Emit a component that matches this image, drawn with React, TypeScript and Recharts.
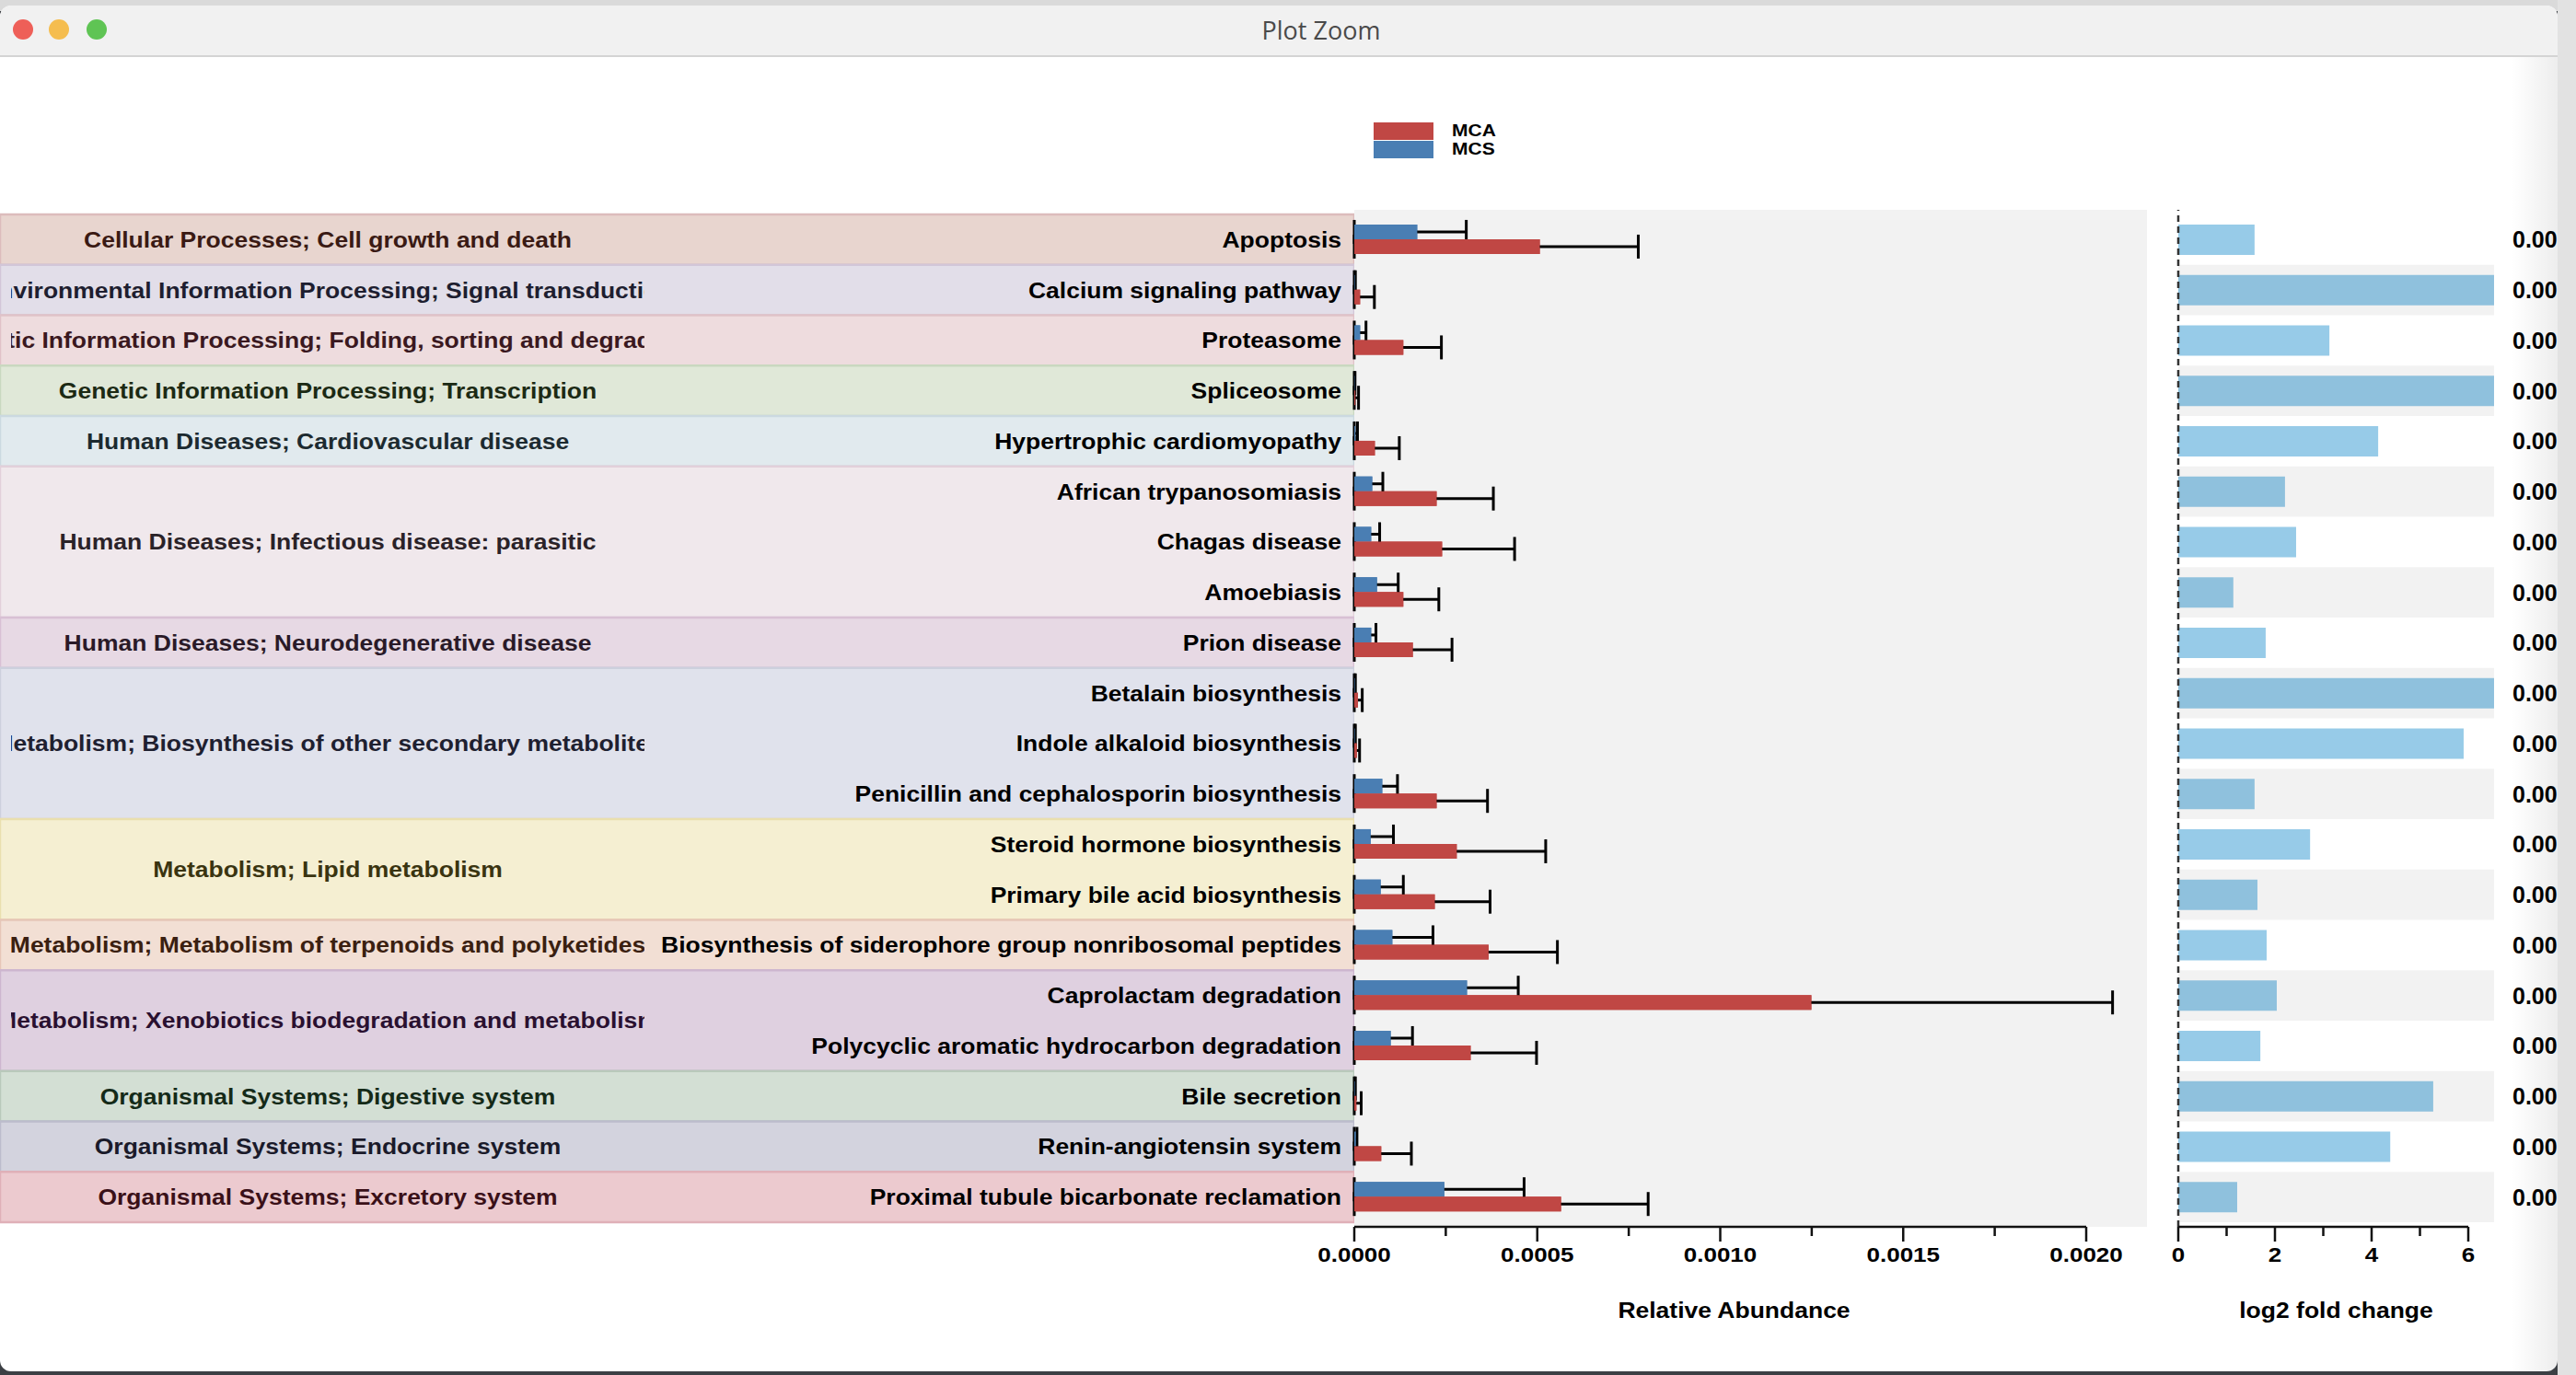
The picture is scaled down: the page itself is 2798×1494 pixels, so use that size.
import React from "react";
import { BarChart, Bar, Cell, XAxis, YAxis, ErrorBar, ReferenceArea, ReferenceLine, CartesianGrid } from "recharts";

const W = 2798;
const H = 1494;
const TOP = 228; // top edge of the plot panels
const AXIS_H = 161; // x axis band, plot bottom sits at 1333
const LEFT_W = 1471; // width of the label panel on the left
const SQ = 0.88; // the screenshot text is a bit squashed vertically
const FONT = "'Liberation Sans', Arial, Helvetica, sans-serif";
const PAD = { top: 5, bottom: 5 };

// ---- data ----
const pathways = [
  "Apoptosis",
  "Calcium signaling pathway",
  "Proteasome",
  "Spliceosome",
  "Hypertrophic cardiomyopathy",
  "African trypanosomiasis",
  "Chagas disease",
  "Amoebiasis",
  "Prion disease",
  "Betalain biosynthesis",
  "Indole alkaloid biosynthesis",
  "Penicillin and cephalosporin biosynthesis",
  "Steroid hormone biosynthesis",
  "Primary bile acid biosynthesis",
  "Biosynthesis of siderophore group nonribosomal peptides",
  "Caprolactam degradation",
  "Polycyclic aromatic hydrocarbon degradation",
  "Bile secretion",
  "Renin-angiotensin system",
  "Proximal tubule bicarbonate reclamation",
];

const pathwayClass = [
  "Cellular Processes; Cell growth and death",
  "Environmental Information Processing; Signal transduction",
  "Genetic Information Processing; Folding, sorting and degradation",
  "Genetic Information Processing; Transcription",
  "Human Diseases; Cardiovascular disease",
  "Human Diseases; Infectious disease: parasitic",
  "Human Diseases; Infectious disease: parasitic",
  "Human Diseases; Infectious disease: parasitic",
  "Human Diseases; Neurodegenerative disease",
  "Metabolism; Biosynthesis of other secondary metabolites",
  "Metabolism; Biosynthesis of other secondary metabolites",
  "Metabolism; Biosynthesis of other secondary metabolites",
  "Metabolism; Lipid metabolism",
  "Metabolism; Lipid metabolism",
  "Metabolism; Metabolism of terpenoids and polyketides",
  "Metabolism; Xenobiotics biodegradation and metabolism",
  "Metabolism; Xenobiotics biodegradation and metabolism",
  "Organismal Systems; Digestive system",
  "Organismal Systems; Endocrine system",
  "Organismal Systems; Excretory system",
];

const mcsMean = [
  0.000172, 0.0000015, 0.000016, 0.000001, 0.000003, 0.0000491, 0.0000462, 0.0000621, 0.0000462, 0.0000015,
  0.0000015, 0.0000765, 0.0000448, 0.0000722, 0.000104, 0.000308, 0.0000996, 0.0000015, 0.0000043, 0.000246,
];
const mcsSd = [
  0.000134, 0.0000015, 0.000016, 0.000001, 0.0000057, 0.0000289, 0.0000231, 0.0000579, 0.000013, 0.0000015,
  0.0000015, 0.0000415, 0.0000622, 0.0000618, 0.000111, 0.00014, 0.0000594, 0.0000015, 0.000003, 0.000218,
];
const mcaMean = [
  0.000507, 0.0000159, 0.000134, 0.000003, 0.0000563, 0.000225, 0.00024, 0.000134, 0.00016, 0.00001,
  0.0000072, 0.000225, 0.00028, 0.00022, 0.000367, 0.001249, 0.000318, 0.0000058, 0.0000737, 0.000565,
];
const mcaSd = [
  0.000269, 0.000039, 0.000104, 0.0000086, 0.0000667, 0.000155, 0.000198, 0.000097, 0.000107, 0.0000117,
  0.0000072, 0.000139, 0.000243, 0.000151, 0.000188, 0.000823, 0.00018, 0.000013, 0.0000823, 0.000238,
];
const log2fc = [1.58, 7, 3.13, 7, 4.14, 2.21, 2.44, 1.14, 1.81, 7, 5.91, 1.58, 2.73, 1.64, 1.83, 2.04, 1.7, 5.28, 4.39, 1.22];
const pValue = [0, 0, 0, 0, 0, 0, 0, 0, 0, 0, 0, 0, 0, 0, 0, 0, 0, 0, 0, 0];

const abundanceTicks = [0, 0.00025, 0.0005, 0.00075, 0.001, 0.00125, 0.0015, 0.00175, 0.002];
const foldTicks = [0, 1, 2, 3, 4, 5, 6];

// ---- styles ----
const MCA_COLOR = "#c04744";
const MCS_COLOR = "#4a7eb3";
const FC_LIGHT = "#97cbe8";
const FC_SHADED = "#8fc1dd";
const classFill = [
  "#e8d5cf", "#e2dee9", "#eedcde", "#e0e8d8", "#e1eaee", "#f0e8ec", "#e7d9e4",
  "#e0e2ec", "#f5efd2", "#f2dfd4", "#dfd0e0", "#d3dfd4", "#d3d3de", "#eccacf",
];
const classStroke = [
  "#dcbcbc", "#d2c6d8", "#e0c2c8", "#c9d8c0", "#cbd9e0", "#e2d0da", "#d8c0d4",
  "#cdd0dd", "#eadfae", "#e6c6b8", "#cdb6cf", "#b9c9bb", "#bcbccc", "#dfb0b8",
];
const classText = [
  "#3a1a14", "#1e1e30", "#3a1820", "#1c2a14", "#1c2a30", "#2a2228", "#2a1a28",
  "#1e2030", "#3a3410", "#3a2010", "#2a1030", "#142a18", "#1a1a2a", "#3a1018",
];

const rows = pathways.map((name, i) => ({
  name,
  mcs: mcsMean[i],
  mca: mcaMean[i],
  mcsErr: [mcsMean[i], mcsSd[i]],
  mcaErr: [mcaMean[i], mcaSd[i]],
  fc: log2fc[i],
  p: pValue[i],
}));

// consecutive rows of the same class make one band
const classSpans: { name: string; first: string; last: string }[] = [];
pathwayClass.forEach((c, i) => {
  const prev = classSpans[classSpans.length - 1];
  if (prev && prev.name === c) prev.last = pathways[i];
  else classSpans.push({ name: c, first: pathways[i], last: pathways[i] });
});

function SqText({ x, y, anchor, size, color = "#000", weight = "bold", baseline = "central", squash = SQ, children }: any) {
  return (
    <text
      transform={`translate(${x},${y}) scale(1,${squash})`}
      textAnchor={anchor}
      dominantBaseline={baseline}
      fontFamily={FONT}
      fontWeight={weight}
      fontSize={size}
      fill={color}
    >
      {children}
    </text>
  );
}

const pathTick = (p: any) => (
  <SqText x={p.x} y={p.y} anchor="end" size={26.5}>
    {p.payload.value}
  </SqText>
);

const pTick = (p: any) => (
  <SqText x={p.x} y={p.y} anchor="start" size={25} squash={1}>
    {pValue[p.index].toFixed(2)}
  </SqText>
);

const axisTick = (digits: number, isMajor: (v: number, i: number) => boolean) => (p: any) => {
  const major = isMajor(p.payload.value, p.index);
  return (
    <g>
      <line x1={p.x} x2={p.x} y1={p.y} y2={p.y + (major ? 16 : 10)} stroke="#111" strokeWidth={2.5} />
      {major && (
        <SqText x={p.x} y={p.y + 38} anchor="middle" baseline="alphabetic" size={26}>
          {p.payload.value.toFixed(digits)}
        </SqText>
      )}
    </g>
  );
};

const axisTitle = (text: string, dx: number) => (p: any) => {
  const vb = p.viewBox;
  if (!vb) return null;
  return (
    <SqText x={vb.x + vb.width / 2 + dx} y={vb.y + 99} anchor="middle" baseline="alphabetic" size={26.5}>
      {text}
    </SqText>
  );
};

const classLabel = (text: string, i: number) => (p: any) => {
  const vb = p.viewBox;
  if (!vb) return null;
  return (
    <g>
      <defs>
        <clipPath id={`cls-${i}`}>
          <rect x={vb.x + 12} y={vb.y} width={688} height={vb.height} />
        </clipPath>
      </defs>
      <g clipPath={`url(#cls-${i})`}>
        <SqText x={vb.x + 356} y={vb.y + vb.height / 2} anchor="middle" size={26.5} color={classText[i]}>
          {text}
        </SqText>
      </g>
    </g>
  );
};

const axisLine = { stroke: "#111", strokeWidth: 2.5 };

// left panel: coloured class bands
function ClassBands() {
  return (
    <BarChart
      width={LEFT_W}
      height={H}
      data={rows}
      layout="vertical"
      margin={{ top: TOP, right: 0, bottom: AXIS_H, left: 0 }}
    >
      <XAxis type="number" domain={[0, 1]} hide />
      <YAxis type="category" dataKey="name" hide padding={PAD} />
      {/* zero-valued series, only there so the category axis gets its domain */}
      <Bar dataKey="p" fill="none" isAnimationActive={false} />
      {classSpans.map((s, i) => (
        <ReferenceArea
          key={s.name}
          x1={0}
          x2={1}
          y1={s.first}
          y2={s.last}
          fill={classFill[i]}
          fillOpacity={1}
          stroke={classStroke[i]}
          strokeWidth={2.5}
          ifOverflow="visible"
          label={classLabel(s.name, i)}
        />
      ))}
    </BarChart>
  );
}

// middle panel, bottom layer: background and error bars (the bars on top hide their inner part)
function AbundanceUnder() {
  return (
    <BarChart
      width={2332}
      height={H}
      data={rows}
      layout="vertical"
      barCategoryGap="20%"
      barGap={0}
      margin={{ top: TOP, right: 0, bottom: AXIS_H, left: LEFT_W }}
    >
      <CartesianGrid fill="#f2f2f2" horizontal={false} vertical={false} />
      <XAxis type="number" domain={[0, 0.002166]} hide />
      <YAxis type="category" dataKey="name" hide padding={PAD} />
      <Bar dataKey="mcs" fill={MCS_COLOR} isAnimationActive={false}>
        <ErrorBar dataKey="mcsErr" direction="x" width={13} stroke="#000" strokeWidth={3} isAnimationActive={false} />
      </Bar>
      <Bar dataKey="mca" fill={MCA_COLOR} isAnimationActive={false}>
        <ErrorBar dataKey="mcaErr" direction="x" width={13} stroke="#000" strokeWidth={3} isAnimationActive={false} />
      </Bar>
    </BarChart>
  );
}

// middle panel, top layer: bars, pathway names and the x axis (axis runs 0 .. 0.002, same px per unit)
function AbundanceChart() {
  return (
    <BarChart
      width={2332}
      height={H}
      data={rows}
      layout="vertical"
      barCategoryGap="20%"
      barGap={0}
      margin={{ top: TOP, right: 66, bottom: 0, left: 0 }}
    >
      <XAxis
        type="number"
        domain={[0, 0.002]}
        ticks={abundanceTicks}
        interval={0}
        height={AXIS_H}
        tickSize={0}
        tickMargin={0}
        axisLine={axisLine}
        tickLine={false}
        tick={axisTick(4, (_v, i) => i % 2 === 0)}
        label={axisTitle("Relative Abundance", 15)}
      />
      <YAxis
        type="category"
        dataKey="name"
        width={LEFT_W}
        padding={PAD}
        interval={0}
        tickSize={0}
        tickMargin={14}
        axisLine={false}
        tickLine={false}
        tick={pathTick}
      />
      <Bar dataKey="mcs" fill={MCS_COLOR} isAnimationActive={false} />
      <Bar dataKey="mca" fill={MCA_COLOR} isAnimationActive={false} />
    </BarChart>
  );
}

// right panel: log2 fold change bars, shaded rows and the p value column
function FoldChart() {
  return (
    <BarChart
      width={438}
      height={H}
      data={rows}
      layout="vertical"
      barCategoryGap="20%"
      margin={{ top: TOP, right: 0, bottom: AXIS_H, left: 26 }}
    >
      <XAxis type="number" domain={[0, 6.54]} allowDataOverflow hide />
      <YAxis type="category" dataKey="name" hide padding={PAD} />
      <YAxis
        yAxisId="p"
        orientation="right"
        type="category"
        dataKey="name"
        width={69}
        padding={PAD}
        interval={0}
        tickSize={0}
        tickMargin={20}
        axisLine={false}
        tickLine={false}
        tick={pTick}
      />
      {pathways.map((name, i) =>
        i % 2 === 1 ? <ReferenceArea key={name} y1={name} y2={name} fill="#000" fillOpacity={0.05} /> : null
      )}
      <Bar dataKey="fc" isAnimationActive={false}>
        {rows.map((r, i) => (
          <Cell key={r.name} fill={i % 2 === 1 ? FC_SHADED : FC_LIGHT} />
        ))}
      </Bar>
      <ReferenceLine x={0} stroke="#333" strokeWidth={2.5} strokeDasharray="7 5" />
    </BarChart>
  );
}

// right panel x axis, 0 .. 6 at the same px per unit as the bars
function FoldAxis() {
  return (
    <BarChart
      width={371}
      height={H}
      data={rows}
      layout="vertical"
      margin={{ top: TOP, right: 30, bottom: 0, left: 26 }}
    >
      <XAxis
        type="number"
        domain={[0, 6]}
        ticks={foldTicks}
        interval={0}
        height={AXIS_H}
        tickSize={0}
        tickMargin={0}
        axisLine={axisLine}
        tickLine={false}
        tick={axisTick(0, (v) => v % 2 === 0)}
        label={axisTitle("log2 fold change", 14)}
      />
      <YAxis type="category" dataKey="name" hide padding={PAD} />
      <Bar dataKey="p" fill="none" isAnimationActive={false} />
    </BarChart>
  );
}

const legendItems = [
  { name: "MCA", color: MCA_COLOR },
  { name: "MCS", color: MCS_COLOR },
];

export default function App() {
  const light = (left: number, color: string) => (
    <div
      style={{
        position: "absolute",
        left: left - 11,
        top: 15,
        width: 22,
        height: 22,
        borderRadius: 11,
        background: color,
      }}
    />
  );
  return (
    <div style={{ position: "absolute", left: 0, top: 0, width: W, height: H, overflow: "hidden", background: "#3c3f44" }}>
      <div style={{ position: "absolute", left: 0, top: 0, width: W, height: 12, background: "#dadada" }} />
      {/* window */}
      <div
        style={{
          position: "absolute",
          left: 0,
          top: 6,
          width: 2778,
          height: 1484,
          background: "#fff",
          borderRadius: 12,
          overflow: "hidden",
        }}
      >
        <div
          style={{
            position: "absolute",
            left: 0,
            top: 0,
            width: 2778,
            height: 54,
            background: "#f1f1f1",
            borderBottom: "2px solid #d4d4d4",
          }}
        >
          {light(25, "#ee5f58")}
          {light(64, "#f5bd4f")}
          {light(105, "#5fc454")}
          <div
            style={{
              position: "absolute",
              left: 0,
              width: 2870,
              top: 8,
              textAlign: "center",
              fontFamily: "'Open Sans', 'Noto Sans', sans-serif",
              fontSize: 27,
              color: "#4a4a4a",
            }}
          >
            Plot Zoom
          </div>
        </div>
        <div
          style={{
            position: "absolute",
            left: 2728,
            top: 56,
            width: 50,
            height: 1430,
            background: "linear-gradient(to right, rgba(0,0,0,0), rgba(0,0,0,0.07))",
          }}
        />
      </div>
      <div style={{ position: "absolute", left: 2778, top: 0, width: 20, height: H, background: "#e2e2e2" }} />

      <div style={{ position: "absolute", left: 0, top: 0 }}>
        <ClassBands />
      </div>
      <div style={{ position: "absolute", left: 0, top: 0 }}>
        <AbundanceUnder />
      </div>
      <div style={{ position: "absolute", left: 0, top: 0 }}>
        <AbundanceChart />
      </div>
      <div style={{ position: "absolute", left: 2340, top: 0 }}>
        <FoldChart />
      </div>
      <div style={{ position: "absolute", left: 2340, top: 0 }}>
        <FoldAxis />
      </div>

      {/* legend */}
      {legendItems.map((it, i) => (
        <React.Fragment key={it.name}>
          <div
            style={{
              position: "absolute",
              left: 1492,
              top: 133 + i * 20,
              width: 65,
              height: 19,
              background: it.color,
            }}
          />
          <div
            style={{
              position: "absolute",
              left: 1577,
              top: 131 + i * 20,
              height: 22,
              lineHeight: "22px",
              fontFamily: FONT,
              fontWeight: "bold",
              fontSize: 21,
              color: "#000",
              transform: `scaleY(${SQ})`,
            }}
          >
            {it.name}
          </div>
        </React.Fragment>
      ))}
    </div>
  );
}
